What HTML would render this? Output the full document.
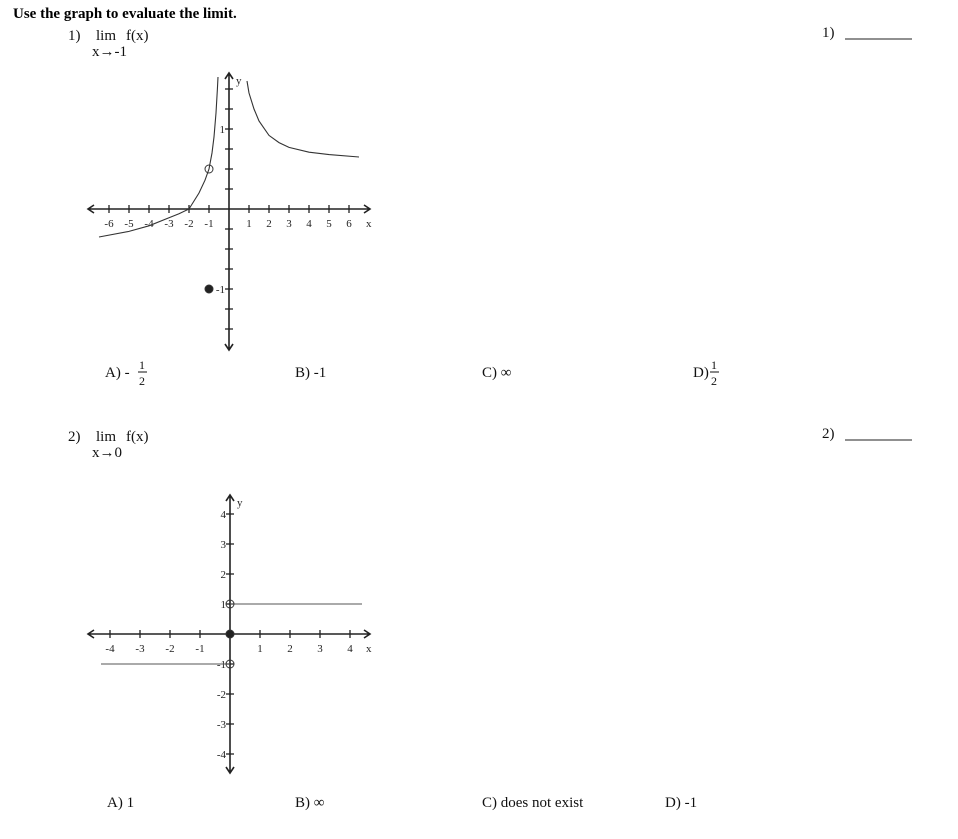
<!DOCTYPE html>
<html><head><meta charset="utf-8"><style>
body{margin:0;background:#fff;}
svg{display:block;font-family:"Liberation Serif",serif;}
</style></head><body>
<svg id="pg" width="958" height="839" viewBox="0 0 958 839">
<text x="13" y="18" font-size="15" font-weight="bold">Use the graph to evaluate the limit.</text>
<g font-size="15" fill="#111">
<text x="68" y="40">1)</text>
<text x="96" y="40">lim</text>
<text x="126" y="40">f(x)</text>
<text x="92" y="56">x→-1</text>
<text x="822" y="37">1)</text>
<line x1="845" y1="39" x2="912" y2="39" stroke="#222"/>
<text x="105" y="377">A) -</text>
<text x="139" y="369" font-size="12">1</text>
<line x1="138" y1="372" x2="147" y2="372" stroke="#111"/>
<text x="139" y="385" font-size="12">2</text>
<text x="295" y="377">B) -1</text>
<text x="482" y="377">C) ∞</text>
<text x="693" y="377">D)</text>
<text x="711" y="369" font-size="12">1</text>
<line x1="710" y1="372" x2="719" y2="372" stroke="#111"/>
<text x="711" y="385" font-size="12">2</text>

<text x="68" y="441">2)</text>
<text x="96" y="441">lim</text>
<text x="126" y="441">f(x)</text>
<text x="92" y="457">x→0</text>
<text x="822" y="438">2)</text>
<line x1="845" y1="440" x2="912" y2="440" stroke="#222"/>
<text x="107" y="807">A) 1</text>
<text x="295" y="807">B) ∞</text>
<text x="482" y="807">C) does not exist</text>
<text x="665" y="807">D) -1</text>
</g>
<g id="g1"></g>
<g id="g2"></g>
</svg>
<script>
// Graph 1 data
const g1XTicks = [-6,-5,-4,-3,-2,-1,1,2,3,4,5,6];
const g1YTicks = [-1.5,-1.25,-1,-0.75,-0.5,-0.25,0.25,0.5,0.75,1,1.25,1.5];
const g1LeftX = [-6.5,-5,-4,-3,-2.5,-2,-1.5,-1.2,-1,-0.85,-0.75,-0.65,-0.58,-0.55];
const g1LeftY = [-0.35,-0.28,-0.21,-0.11,-0.06,0,0.2,0.36,0.5,0.7,0.9,1.2,1.5,1.65];
const g1RightX = [0.9,1,1.25,1.5,2,2.5,3,4,5,6.5];
const g1RightY = [1.6,1.45,1.25,1.1,0.92,0.83,0.77,0.71,0.68,0.65];
const g1Open = [[-1,0.5]];
const g1Closed = [[-1,-1]];
// Graph 2 data
const g2XTicks = [-4,-3,-2,-1,1,2,3,4];
const g2YTicks = [-4,-3,-2,-1,1,2,3,4];
const g2SegX = [[-4.3,0],[0,4.4]];
const g2SegY = [[-1,-1],[1,1]];
const g2Open = [[0,1],[0,-1]];
const g2Closed = [[0,0]];

const NS="http://www.w3.org/2000/svg";
function mk(p,t,a){const e=document.createElementNS(NS,t);for(const k in a)e.setAttribute(k,a[k]);p.appendChild(e);return e;}
function axes(g,ox,oy,ux,uy,xr,yr,xt,yt,yLabels){
  const sx=v=>ox+v*ux, sy=v=>oy-v*uy;
  const ax=mk(g,'path',{d:`M${xr[0]} ${oy}H${xr[1]}M${xr[0]+6} ${oy-4}L${xr[0]} ${oy}L${xr[0]+6} ${oy+4}M${xr[1]-6} ${oy-4}L${xr[1]} ${oy}L${xr[1]-6} ${oy+4}`,stroke:'#222','stroke-width':1.6,fill:'none'});
  
  const ay=mk(g,'path',{d:`M${ox} ${yr[0]}V${yr[1]}M${ox-4} ${yr[0]+6}L${ox} ${yr[0]}L${ox+4} ${yr[0]+6}M${ox-4} ${yr[1]-6}L${ox} ${yr[1]}L${ox+4} ${yr[1]-6}`,stroke:'#222','stroke-width':1.6,fill:'none'});
  
  xt.forEach(v=>{
    const t=mk(g,'line',{x1:sx(v),x2:sx(v),y1:oy-4,y2:oy+4,stroke:'#222','stroke-width':1.3});
    
    const l=mk(g,'text',{x:sx(v),y:oy+18,'font-size':11,'text-anchor':'middle',fill:'#222'});l.textContent=v;
    
  });
  yt.forEach(v=>{
    const t=mk(g,'line',{x1:ox-4,x2:ox+4,y1:sy(v),y2:sy(v),stroke:'#222','stroke-width':1.3});
    
    if(yLabels.includes(v)){const l=mk(g,'text',{x:ox-4,y:sy(v)+4,'font-size':11,'text-anchor':'end',fill:'#222'});l.textContent=v;
    }
  });
  const xl=mk(g,'text',{x:xr[1]-4,y:oy+18,'font-size':11,fill:'#222'});xl.textContent='x';
  
  const yl=mk(g,'text',{x:ox+7,y:yr[0]+11,'font-size':11,fill:'#222'});yl.textContent='y';
  
  return [sx,sy];
}
function curve(g,sx,sy,X,Y,name){
  const d=X.map((x,i)=>(i?'L':'M')+sx(x).toFixed(1)+' '+sy(Y[i]).toFixed(1)).join('');
  const p=mk(g,'path',{d,stroke:'#333','stroke-width':1.1,fill:'none'});
  
}
function dots(g,sx,sy,pts,open){
  pts.forEach(([x,y])=>{
    const c=mk(g,'circle',{cx:sx(x),cy:sy(y),r:4,fill:open?'none':'#222',stroke:'#333','stroke-width':1});
    
  });
}
// graph 1
const g1=document.getElementById('g1');
let [sx,sy]=axes(g1,229,209,20,80,[88,370],[73,350],g1XTicks,g1YTicks,[1,-1]);
curve(g1,sx,sy,g1LeftX,g1LeftY,'left-branch');
curve(g1,sx,sy,g1RightX,g1RightY,'right-branch');
dots(g1,sx,sy,g1Open,true);dots(g1,sx,sy,g1Closed,false);
// graph 2
const g2=document.getElementById('g2');
[sx,sy]=axes(g2,230,634,30,30,[88,370],[495,773],g2XTicks,g2YTicks,g2YTicks);
g2SegX.forEach((s,i)=>{const l=mk(g2,'line',{x1:sx(s[0]),x2:sx(s[1]),y1:sy(g2SegY[i][0]),y2:sy(g2SegY[i][1]),stroke:'#555','stroke-width':1.1});
});
dots(g2,sx,sy,g2Open,true);dots(g2,sx,sy,g2Closed,false);
</script>
</body></html>
